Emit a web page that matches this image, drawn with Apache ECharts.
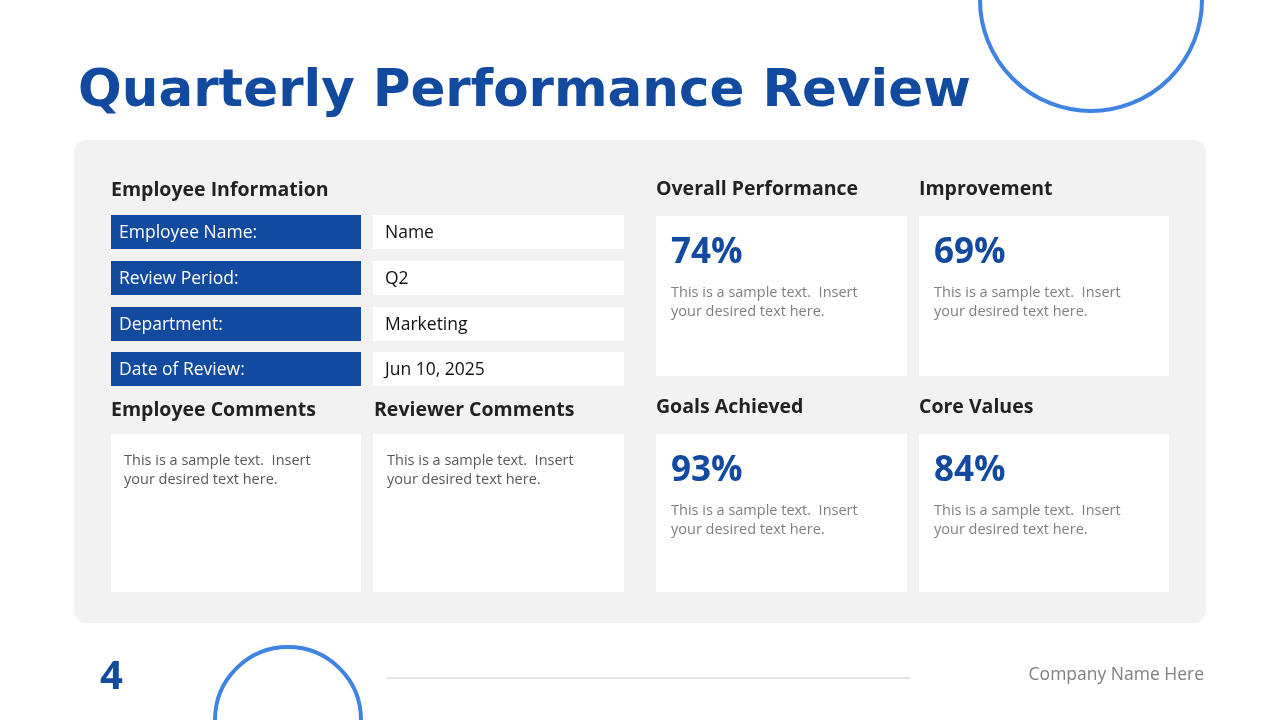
<!DOCTYPE html>
<html><head><meta charset="utf-8">
<script src="https://cdn.jsdelivr.net/npm/echarts@6/dist/echarts.min.js"></script>
<style>html,body{margin:0;padding:0;background:#fff}#c{width:1280px;height:720px}</style>
</head><body><div id="c"></div>
<script>
const title = "Quarterly Performance Review";
const infoLabels = ["Employee Name:", "Review Period:", "Department:", "Date of Review:"];
const infoValues = ["Name", "Q2", "Marketing", "Jun 10, 2025"];
const commentHeaders = ["Employee Comments", "Reviewer Comments"];
const metricNames = ["Overall Performance", "Improvement", "Goals Achieved", "Core Values"];
const metricValues = [74, 69, 93, 84];
const sampleText = "This is a sample text.  Insert\nyour desired text here.";
const pageNum = "4";
const company = "Company Name Here";

const BLUE = "#124aa0", F = "'Open Sans', 'Noto Sans', sans-serif";
const els = [];
els.push({type:'circle', shape:{cx:1091, cy:0, r:111}, style:{fill:'none', stroke:'#3f83e3', lineWidth:4}});
els.push({type:'circle', shape:{cx:288, cy:720, r:73}, style:{fill:'none', stroke:'#3f83e3', lineWidth:4}});
els.push({type:'text', x:78, y:93, style:{text:title, fill:BLUE, font:"bold 51.5px 'DejaVu Sans', sans-serif", verticalAlign:'middle'}});
els.push({type:'rect', shape:{x:74, y:140, width:1132, height:483, r:12}, style:{fill:'#f2f2f2'}});
const hdr = (t, x, y) => els.push({type:'text', x, y, style:{text:t, fill:'#222', font:"bold 19.5px "+F, verticalAlign:'middle'}});
hdr("Employee Information", 111, 190);
const ys = [215, 261, 307, 352];
infoLabels.forEach((l, i) => {
  els.push({type:'rect', shape:{x:111, y:ys[i], width:250, height:34}, style:{fill:BLUE}});
  els.push({type:'text', x:119, y:ys[i]+18, style:{text:l, fill:'#fff', font:"17.5px "+F, verticalAlign:'middle'}});
  els.push({type:'rect', shape:{x:373, y:ys[i], width:251, height:34}, style:{fill:'#fff'}});
  els.push({type:'text', x:385, y:ys[i]+18, style:{text:infoValues[i], fill:'#111', font:"17.5px "+F, verticalAlign:'middle'}});
});
commentHeaders.forEach((h, i) => {
  const x = [111, 374][i];
  hdr(h, x, 410);
  els.push({type:'rect', shape:{x:[111,373][i], y:434, width:[250,251][i], height:158}, style:{fill:'#fff'}});
  els.push({type:'text', x:x+13, y:451, style:{text:sampleText, fill:'#595959', font:"14.5px "+F, lineHeight:19}});
});
metricNames.forEach((n, i) => {
  const x = [656, 919][i%2], y = [216, 434][Math.floor(i/2)];
  hdr(n, x, y-27);
  els.push({type:'rect', shape:{x, y, width:i%2?250:251, height:i<2?160:158}, style:{fill:'#fff'}});
  els.push({type:'text', x:x+15, y:y+37, style:{text:metricValues[i]+"%", fill:BLUE, font:"bold 35px "+F, verticalAlign:'middle'}});
  els.push({type:'text', x:x+15, y:y+67, style:{text:sampleText, fill:'#7f7f7f', font:"14.5px "+F, lineHeight:19}});
});
els.push({type:'text', x:100, y:678, style:{text:pageNum, fill:BLUE, font:"bold 40px "+F, verticalAlign:'middle'}});
els.push({type:'line', shape:{x1:387, y1:678, x2:910, y2:678}, style:{stroke:'#c8c8c8', lineWidth:1}});
els.push({type:'text', x:1204, y:675, style:{text:company, fill:'#7f7f7f', font:"17.5px "+F, align:'right', verticalAlign:'middle'}});

const chart = echarts.init(document.getElementById('c'));
chart.setOption({graphic:{elements:els}});
</script></body></html>
